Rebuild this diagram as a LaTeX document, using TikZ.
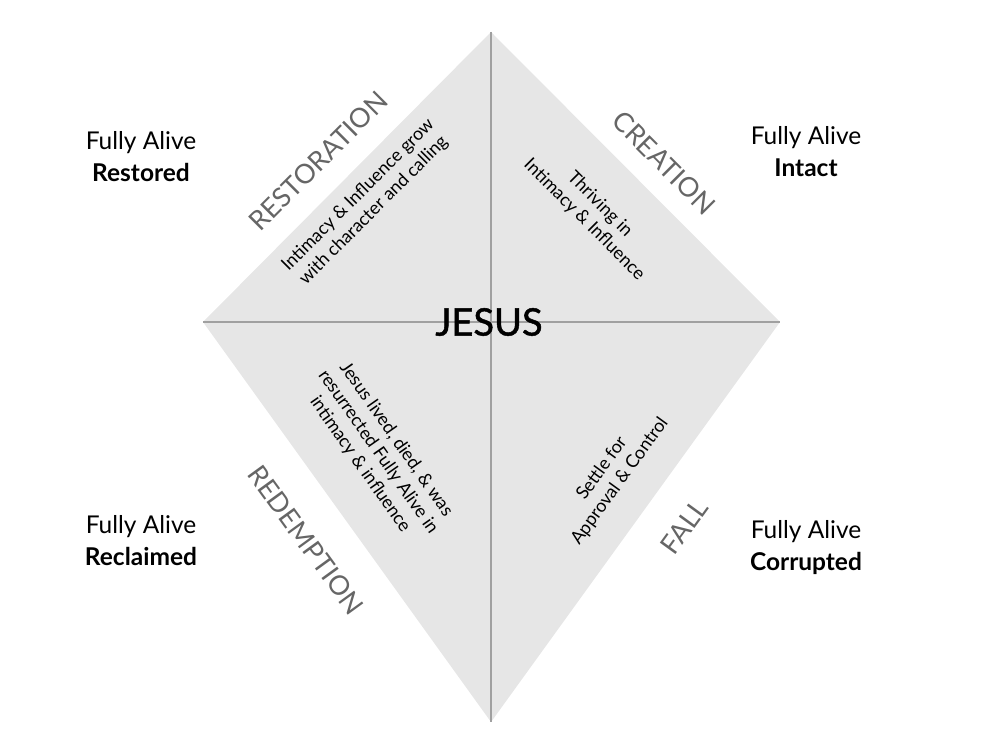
\documentclass[tikz,border=0pt]{standalone}
\usepackage{fontspec}
\setmainfont{Lato}
\newfontfamily\jesusfont[FakeBold=1.3]{Lato}
\usepackage{tikz}
\definecolor{kitegray}{HTML}{E6E6E6}
\definecolor{axisgray}{HTML}{A0A0A0}
\definecolor{phasegray}{HTML}{666666}
\tikzset{phase/.style = {text = phasegray, font = \fontsize{27}{30}\selectfont}}
\tikzset{note/.style = {align = center, font = \fontsize{18}{22}\selectfont}}
\tikzset{state/.style = {align = center, font = \fontsize{24.5}{32}\selectfont}}
\tikzset{axis/.style = {draw = axisgray, line width = 2pt}}

\begin{document}
\begin{tikzpicture}[x = 1pt, y = -1pt]
			\useasboundingbox (0, 0) rectangle (1000, 754);

			\coordinate (top) at (491, 32);
			\coordinate (left) at (203, 322);
			\coordinate (right) at (780, 322);
			\coordinate (bottom) at (491, 722);

			\fill[kitegray] (top) -- (right) -- (bottom) -- (left) -- cycle;
			\draw[axis] (top) -- (bottom);
			\draw[axis] (left) -- (right);

			\node[font = \jesusfont\fontsize{38}{40}\selectfont] (jesus) at (489, 322) {JESUS};

			\node[phase, rotate = 45] (restoration) at (318, 161) {RESTORATION};
			\node[phase, rotate = -45] (creation) at (664, 163) {CREATION};
			\node[phase, rotate = -54] (redemption) at (306, 540) {REDEMPTION};
			\node[phase, rotate = 54] (fall) at (684, 527) {FALL};

			\node[note, rotate = 45] (restnote) at (366, 203) {Intimacy \& Influence  grow\\with character and calling};
			\node[note, rotate = -45] (creanote) at (592, 212) {Thriving in\\Intimacy \& Influence};
			\node[note, rotate = -55] (redenote) at (378, 452) {Jesus lived, died, \& was\\resurrected Fully Alive in\\intimacy \& influence};
			\node[note, rotate = 54] (fallnote) at (611, 475) {Settle for\\Approval \& Control};

			\node[state] (restored) at (141, 157) {Fully Alive\\\textbf{Restored}};
			\node[state] (intact) at (806, 152) {Fully Alive\\\textbf{Intact}};
			\node[state] (reclaimed) at (141, 541) {Fully Alive\\\textbf{Reclaimed}};
			\node[state] (corrupted) at (806, 548) {Fully Alive\\\textbf{Corrupted}};
		\end{tikzpicture}
\end{document}
